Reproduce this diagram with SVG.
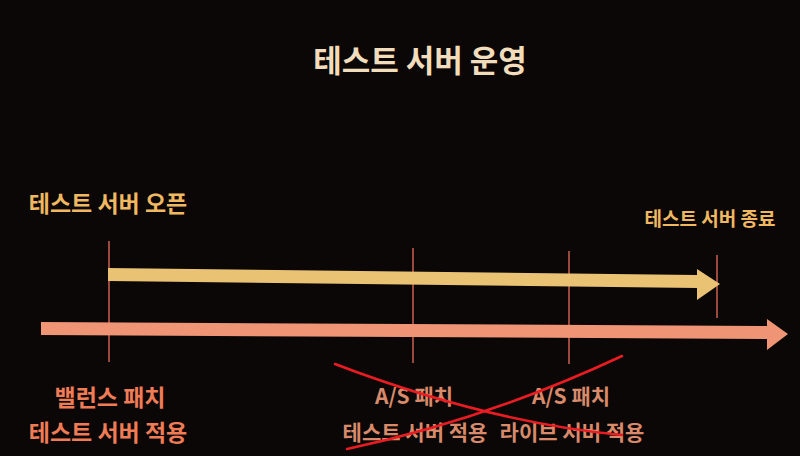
<svg xmlns="http://www.w3.org/2000/svg" width="800" height="456" viewBox="0 0 800 456">
<style>
text{font-family:"Noto Sans CJK KR","Noto Sans",sans-serif;font-weight:bold;text-anchor:middle}
.title{fill:#f1dcbc;font-size:31px}
.top{fill:#f0b860}
.bot{fill:#f07c56;font-size:23px}
.mid{fill:#d88a6a;font-size:21px}
.tick{stroke:#9a4a3c;stroke-width:2;fill:none}
.cross{stroke:#ea1c22;stroke-width:2.5;fill:none;stroke-linecap:round}
</style>
<rect width="800" height="456" fill="#0a0706"/>
<g id="title"><text class="title" x="420" y="72">테스트 서버 운영</text></g>
<g id="connectors">
<line class="tick" x1="109" y1="241" x2="109" y2="362"/>
<line class="tick" x1="413" y1="248" x2="413" y2="363"/>
<line class="tick" x1="569" y1="251" x2="569" y2="364"/>
<line class="tick" x1="717" y1="255" x2="717" y2="318"/>
<polygon id="test-arrow" fill="#e9c274" points="108,268 697,275 697,269 720,284 697,300 697,288 108,281"/>
<polygon id="live-arrow" fill="#ef9474" points="41,322 767,326 767,319 788,334 767,350 767,339 41,335"/>
</g>
<g id="open"><text class="top" x="108" y="212" font-size="23">테스트 서버 오픈</text></g>
<g id="close"><text class="top" x="710" y="226" font-size="19">테스트 서버 종료</text></g>
<g id="balance"><text class="bot" x="110" y="406">밸런스 패치</text><text class="bot" x="108" y="441">테스트 서버 적용</text></g>
<g id="as-test"><text class="mid" x="414" y="404">A/S 패치</text><text class="mid" x="415" y="440">테스트 서버 적용</text></g>
<g id="as-live"><text class="mid" x="571" y="404">A/S 패치</text><text class="mid" x="572" y="440">라이브 서버 적용</text></g>
<g id="cross">
<path class="cross" d="M335,364 Q487,422 622,435"/>
<path class="cross" d="M347,449 Q485,420 622,356"/>
</g>
</svg>
